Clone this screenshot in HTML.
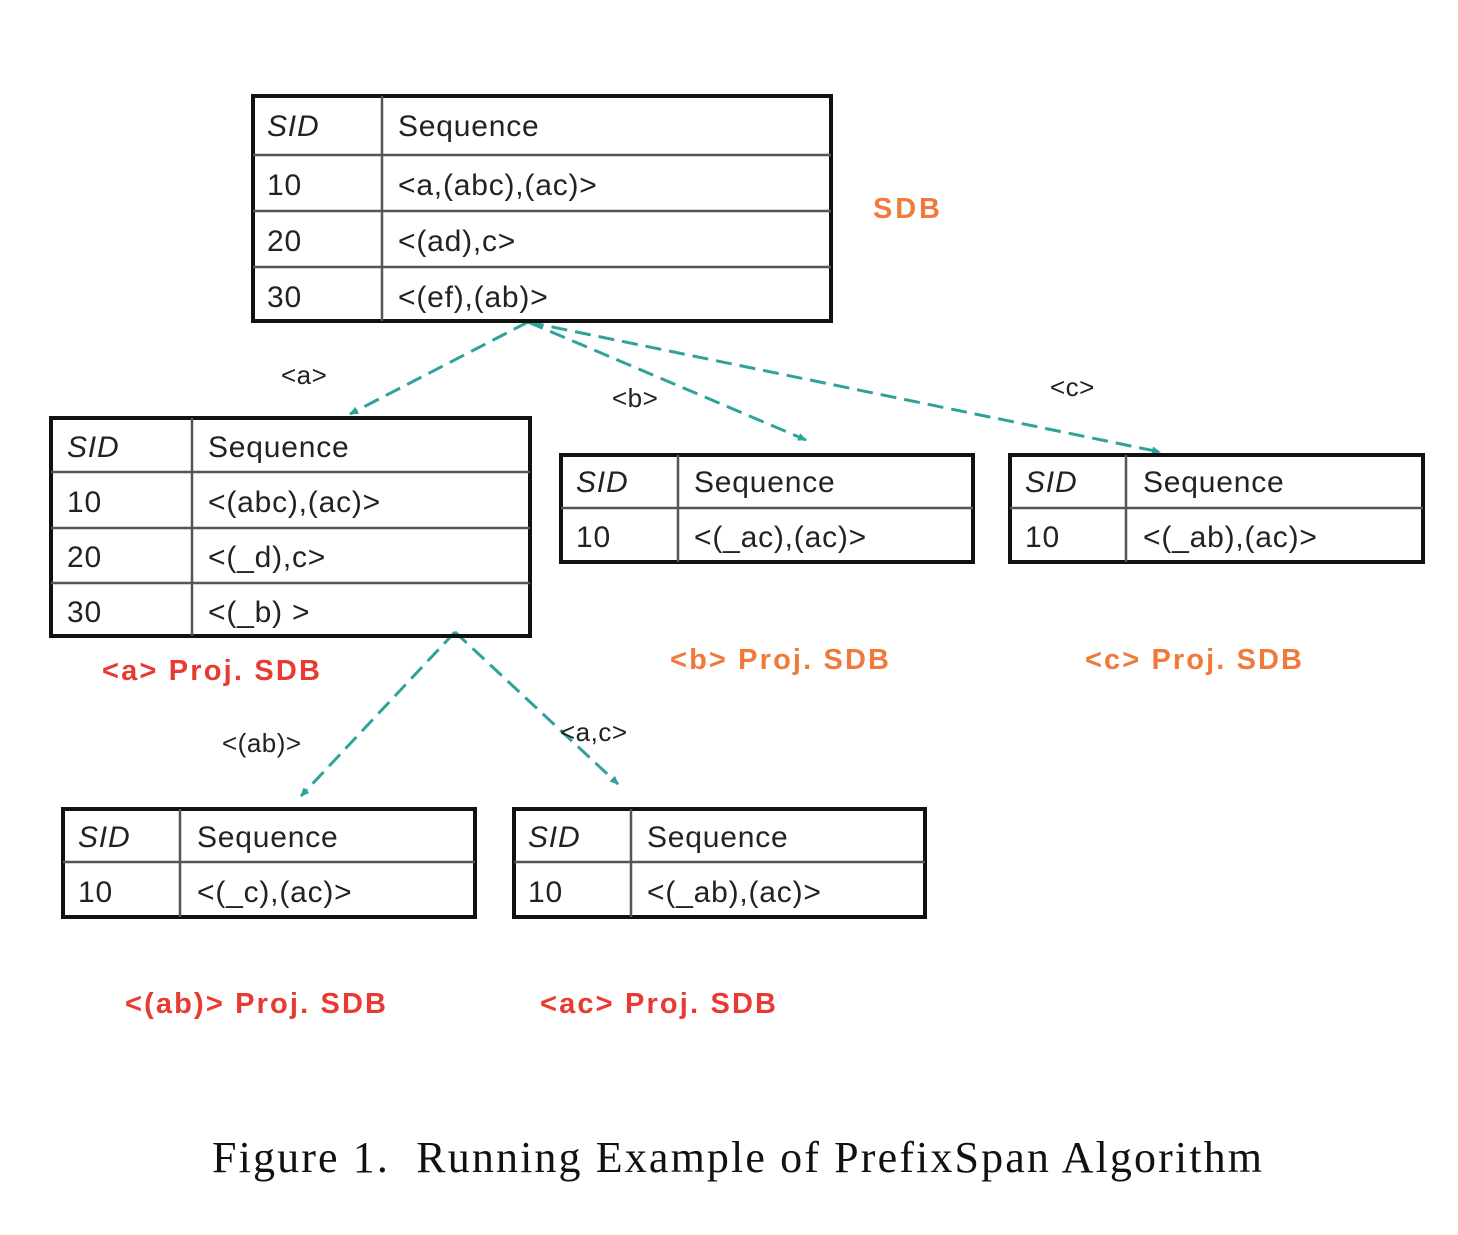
<!DOCTYPE html>
<html><head><meta charset="utf-8"><style>
body{margin:0;background:#fff;}
svg text{font-family:"Liberation Sans",Arial,sans-serif;}
</style></head><body>
<svg width="1458" height="1230" xmlns="http://www.w3.org/2000/svg">
<defs>
<marker id="ar" markerWidth="10" markerHeight="10" refX="8" refY="5" orient="auto" markerUnits="userSpaceOnUse">
<path d="M0,1 L9,5 L0,9 Z" fill="#2fa39a"/></marker>
</defs>
<g stroke="#2fa39a" stroke-width="3" stroke-dasharray="16,8" fill="none">
<line x1="528" y1="322" x2="350" y2="414" marker-end="url(#ar)"/>
<line x1="528" y1="322" x2="806" y2="440" marker-end="url(#ar)"/>
<line x1="528" y1="322" x2="1160" y2="452" marker-end="url(#ar)"/>
<line x1="455" y1="632" x2="301" y2="796" marker-end="url(#ar)"/>
<line x1="455" y1="632" x2="618" y2="784" marker-end="url(#ar)"/>
</g>
<g fill="none">
<rect x="253" y="96" width="578" height="225" stroke="#111" stroke-width="4"/>
<g stroke="#555" stroke-width="2.5">
<line x1="382" y1="96" x2="382" y2="321"/>
<line x1="253" y1="155" x2="831" y2="155"/>
<line x1="253" y1="211" x2="831" y2="211"/>
<line x1="253" y1="267" x2="831" y2="267"/>
</g>
<rect x="51" y="418" width="479" height="218" stroke="#111" stroke-width="4"/>
<g stroke="#555" stroke-width="2.5">
<line x1="192" y1="418" x2="192" y2="636"/>
<line x1="51" y1="472" x2="530" y2="472"/>
<line x1="51" y1="528" x2="530" y2="528"/>
<line x1="51" y1="583" x2="530" y2="583"/>
</g>
<rect x="561" y="455" width="412" height="107" stroke="#111" stroke-width="4"/>
<g stroke="#555" stroke-width="2.5"><line x1="678" y1="455" x2="678" y2="562"/><line x1="561" y1="508" x2="973" y2="508"/></g>
<rect x="1010" y="455" width="413" height="107" stroke="#111" stroke-width="4"/>
<g stroke="#555" stroke-width="2.5"><line x1="1126" y1="455" x2="1126" y2="562"/><line x1="1010" y1="508" x2="1423" y2="508"/></g>
<rect x="63" y="809" width="412" height="108" stroke="#111" stroke-width="4"/>
<g stroke="#555" stroke-width="2.5"><line x1="180" y1="809" x2="180" y2="917"/><line x1="63" y1="862" x2="475" y2="862"/></g>
<rect x="514" y="809" width="411" height="108" stroke="#111" stroke-width="4"/>
<g stroke="#555" stroke-width="2.5"><line x1="631" y1="809" x2="631" y2="917"/><line x1="514" y1="862" x2="925" y2="862"/></g>
</g>
<g font-size="30" fill="#222" letter-spacing="0.8">
<text x="267" y="136" font-style="italic">SID</text><text x="398" y="136">Sequence</text>
<text x="267" y="195">10</text><text x="398" y="195">&lt;a,(abc),(ac)&gt;</text>
<text x="267" y="251">20</text><text x="398" y="251">&lt;(ad),c&gt;</text>
<text x="267" y="307">30</text><text x="398" y="307">&lt;(ef),(ab)&gt;</text>

<text x="67" y="457" font-style="italic">SID</text><text x="208" y="457">Sequence</text>
<text x="67" y="512">10</text><text x="208" y="512">&lt;(abc),(ac)&gt;</text>
<text x="67" y="567">20</text><text x="208" y="567">&lt;(_d),c&gt;</text>
<text x="67" y="622">30</text><text x="208" y="622">&lt;(_b) &gt;</text>

<text x="576" y="492" font-style="italic">SID</text><text x="694" y="492">Sequence</text>
<text x="576" y="547">10</text><text x="694" y="547">&lt;(_ac),(ac)&gt;</text>

<text x="1025" y="492" font-style="italic">SID</text><text x="1143" y="492">Sequence</text>
<text x="1025" y="547">10</text><text x="1143" y="547">&lt;(_ab),(ac)&gt;</text>

<text x="78" y="847" font-style="italic">SID</text><text x="197" y="847">Sequence</text>
<text x="78" y="902">10</text><text x="197" y="902">&lt;(_c),(ac)&gt;</text>

<text x="528" y="847" font-style="italic">SID</text><text x="647" y="847">Sequence</text>
<text x="528" y="902">10</text><text x="647" y="902">&lt;(_ab),(ac)&gt;</text>
</g>
<g font-size="26" fill="#222" letter-spacing="0.5">
<text x="281" y="384">&lt;a&gt;</text>
<text x="612" y="407">&lt;b&gt;</text>
<text x="1050" y="396">&lt;c&gt;</text>
<text x="222" y="752">&lt;(ab)&gt;</text>
<text x="560" y="741">&lt;a,c&gt;</text>
</g>
<g font-size="29" font-weight="bold">
<text x="873" y="218" fill="#f07a3a" textLength="67">SDB</text>
<text x="102" y="680" fill="#e83a30" textLength="218">&lt;a&gt; Proj. SDB</text>
<text x="670" y="669" fill="#f07a3a" textLength="219">&lt;b&gt; Proj. SDB</text>
<text x="1085" y="669" fill="#f07a3a" textLength="217">&lt;c&gt; Proj. SDB</text>
<text x="125" y="1013" fill="#e83a30" textLength="261">&lt;(ab)&gt; Proj. SDB</text>
<text x="540" y="1013" fill="#e83a30" textLength="236">&lt;ac&gt; Proj. SDB</text>
</g>
<text x="212" y="1172" xml:space="preserve" textLength="1050" font-size="44" fill="#111" style="font-family:'Liberation Serif',serif">Figure 1.  Running Example of PrefixSpan Algorithm</text>
</svg>
</body></html>
